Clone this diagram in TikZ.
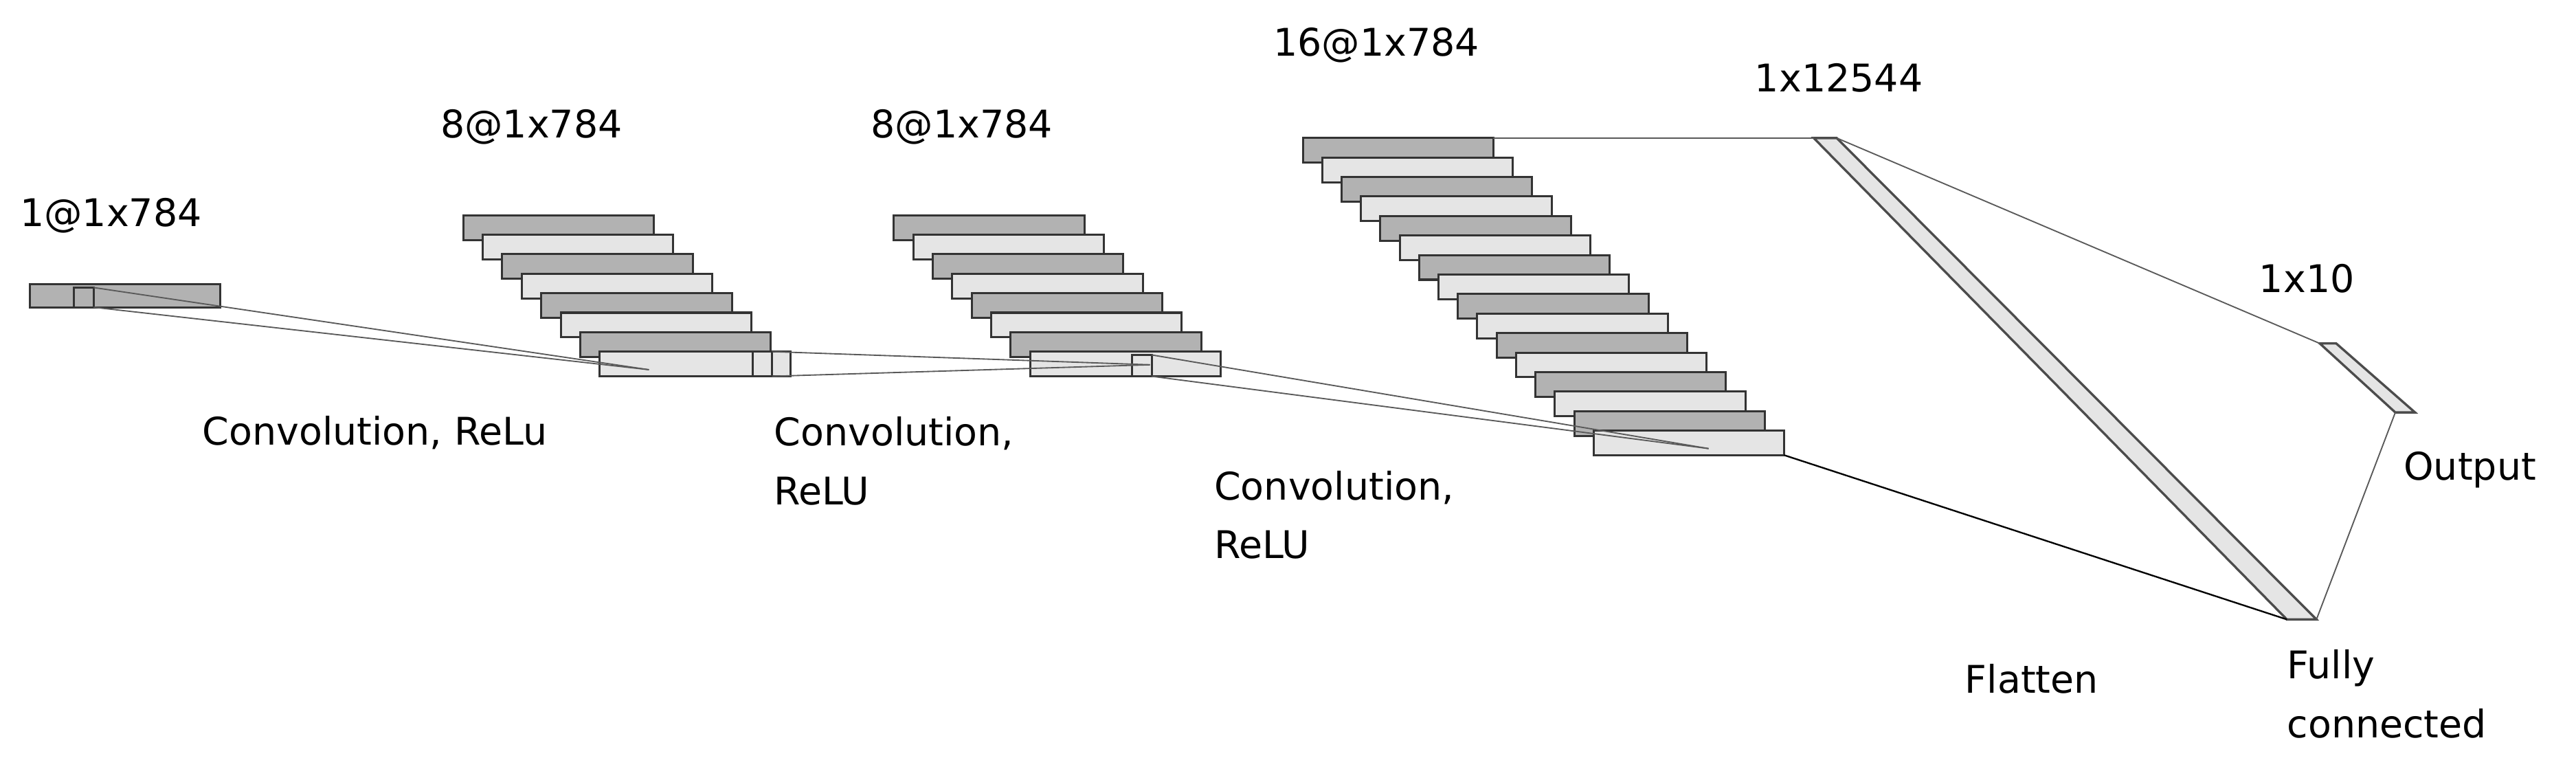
\documentclass[tikz,border=0pt]{standalone}
\usepackage{fontspec}
\setmainfont{DejaVu Sans}
\begin{document}
\begin{tikzpicture}[x=0.05cm,y=-0.05cm,
  dk/.style={draw=black!80,fill=black!30,line width=1.8pt},
  lt/.style={draw=black!80,fill=black!10,line width=1.8pt},
  conn/.style={draw=black!65,line width=1.1pt},
  lbl/.style={inner sep=0,anchor=base west,font=\fontsize{33}{51}\selectfont,align=left}]
\useasboundingbox (0,0) rectangle (1568,474.7);
% layer 1
\draw[dk] (18,173) rectangle (134,187);
\draw[draw=black!80,line width=1.8pt] (45,175) rectangle (57,187);
\coordinate (s1a) at (57,175); \coordinate (s1b) at (57,187);
% stack 1
\foreach \i in {0,...,7}{
  \pgfmathsetmacro{\xx}{282+\i*11.86}\pgfmathsetmacro{\yy}{131+\i*11.86}
  \pgfmathparse{mod(\i,2)==0?"dk":"lt"}\edef\st{\pgfmathresult}
  \draw[\st] (\xx,\yy) rectangle ++(116,15);}
\draw[draw=black!80,line width=1.8pt] (458,214) rectangle (470,229);
\coordinate (t1) at (395,225);
\coordinate (s2a) at (470,214); \coordinate (s2b) at (470,229);
% stack 2
\foreach \i in {0,...,7}{
  \pgfmathsetmacro{\xx}{544+\i*11.86}\pgfmathsetmacro{\yy}{131+\i*11.86}
  \pgfmathparse{mod(\i,2)==0?"dk":"lt"}\edef\st{\pgfmathresult}
  \draw[\st] (\xx,\yy) rectangle ++(116,15);}
\draw[draw=black!80,line width=1.8pt] (689,216) rectangle (701,229);
\coordinate (t2) at (700,222);
\coordinate (s3a) at (701,216); \coordinate (s3b) at (701,229);
% stack 3
\foreach \i in {0,...,15}{
  \pgfmathsetmacro{\xx}{793+\i*11.8}\pgfmathsetmacro{\yy}{84+\i*11.87}
  \pgfmathparse{mod(\i,2)==0?"dk":"lt"}\edef\st{\pgfmathresult}
  \draw[\st] (\xx,\yy) rectangle ++(116,15);}
\coordinate (t3) at (1040,273);
\coordinate (c3tr) at (909,84); \coordinate (c3br) at (1086,277);
% flatten bar
\coordinate (fTL) at (1104,84); \coordinate (fTR) at (1118,84);
\coordinate (fBL) at (1392,377); \coordinate (fBR) at (1410,377);
\draw[lt,draw=black!70,line width=2pt] (fTL) -- (fTR) -- (fBR) -- (fBL) -- cycle;
% output bar
\coordinate (oTL) at (1412,209); \coordinate (oTR) at (1422,209);
\coordinate (oBL) at (1458,251); \coordinate (oBR) at (1470,251);
\draw[lt,draw=black!70,line width=2pt] (oTL) -- (oTR) -- (oBR) -- (oBL) -- cycle;
% connectors
\draw[conn] (s1a) -- (t1); \draw[conn] (s1b) -- (t1);
\draw[conn] (s2a) -- (t2); \draw[conn] (s2b) -- (t2);
\draw[conn] (s3a) -- (t3); \draw[conn] (s3b) -- (t3);
\draw[conn] (c3tr) -- (fTL);
\draw[draw=black,line width=1.4pt] (c3br) -- (fBL);
\draw[conn] (fTR) -- (oTL);
\draw[conn] (fBR) -- (oBL);
% labels
\node[lbl] (l1) at (12,138) {1@1x784};
\node[lbl] (l2) at (268,84) {8@1x784};
\node[lbl] (l3) at (530,84) {8@1x784};
\node[lbl] (l4) at (775,34) {16@1x784};
\node[lbl] (l5) at (1068,56) {1x12544};
\node[lbl] (l6) at (1375,178) {1x10};
\node[lbl] (c1) at (123,271) {Convolution, ReLu};
\node[lbl] (c2) at (471,307) {Convolution,\\ReLU};
\node[lbl] (c3) at (739,340) {Convolution,\\ReLU};
\node[lbl] (o) at (1463,292) {Output};
\node[lbl] (f) at (1196,422) {Flatten};
\node[lbl] (fc) at (1392,449) {Fully\\connected};
\end{tikzpicture}
\end{document}
